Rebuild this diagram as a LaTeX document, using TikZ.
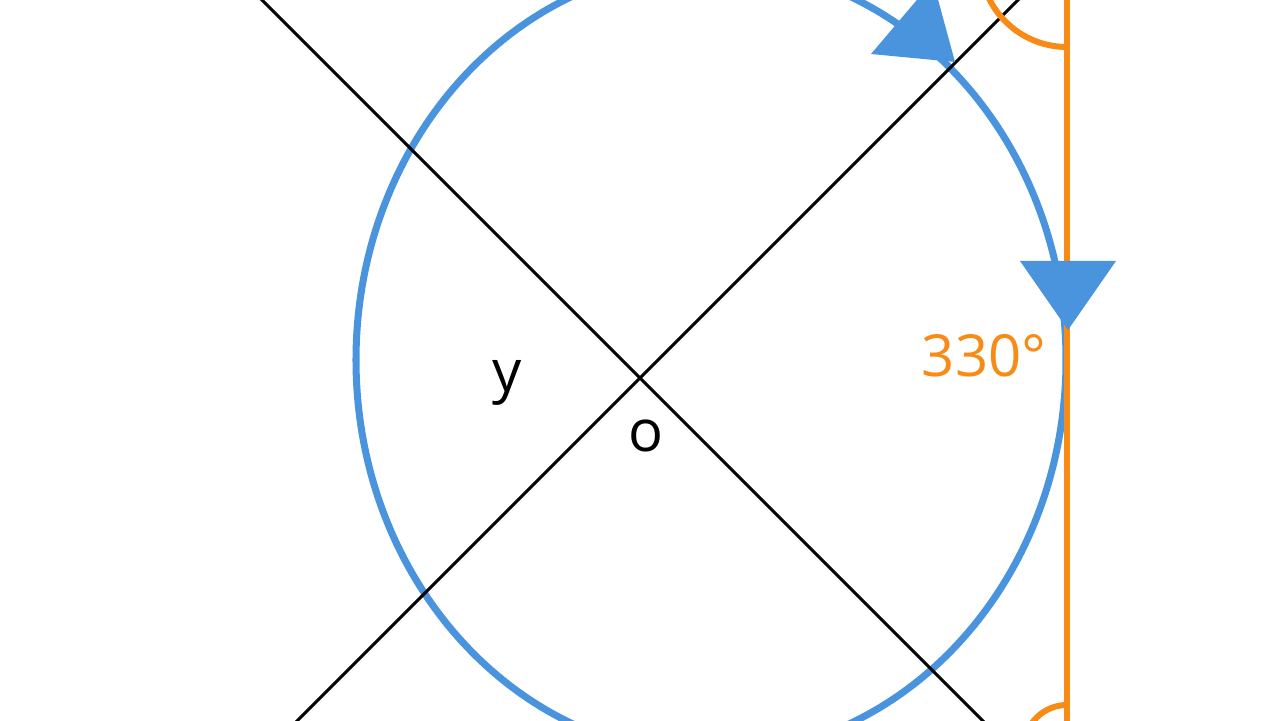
\documentclass[tikz,border=0pt]{standalone}
\usepackage{fontspec}
\setmainfont{Open Sans}
\usepackage{tikz}
\definecolor{orbitblue}{HTML}{4A94DE}
\definecolor{angleorange}{HTML}{F78B16}

\begin{document}
\begin{tikzpicture}[
    axisline/.style={line width=1.7pt},
    orbit/.style={draw=orbitblue, line width=4pt},
    anglemark/.style={draw=angleorange, line width=3.4pt},
    arrowhead/.style={fill=orbitblue},
    lbl/.style={anchor=base, inner sep=0pt, font=\fontsize{33}{40}\selectfont}
  ]
        \useasboundingbox (0,0) rectangle (25.6,14.4);
        \clip (0,0) rectangle (25.6,14.4);

        \coordinate (O) at (12.8,6.84);
        \coordinate (C) at (14.22,7.2);

        \draw[orbit] (C) ellipse (7.1 and 7.9);

        \draw[axisline] ([shift={(-9,9)}]O) -- ([shift={(9,-9)}]O);
        \draw[axisline] ([shift={(-9,-9)}]O) -- ([shift={(9,9)}]O);

        \draw[anglemark] (21.34,-1) -- (21.34,15);
        \draw[anglemark] (19.6,15.2) arc (180:270:1.74);
        \draw[anglemark] (20.48,-0.56) arc (180:90:0.86);

        \fill[arrowhead] (19.1,13.16) -- (17.42,13.32) -- (18.66,14.78) -- cycle;
        \fill[arrowhead] (21.36,7.8) -- (20.4,9.18) -- (22.32,9.18) -- cycle;

        \node[lbl] (ylbl) at (10.14,6.56) {y};
        \node[lbl] (olbl) at (12.92,5.36) {o};
        \node[lbl, text=angleorange] (deg) at (19.68,6.86) {330°};
\end{tikzpicture}
\end{document}
